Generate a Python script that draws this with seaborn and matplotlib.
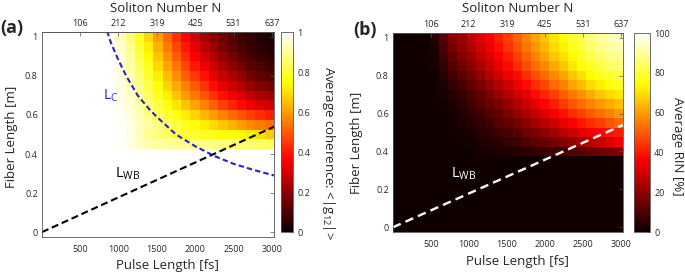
import numpy as np
import pandas as pd
import matplotlib
matplotlib.use("Agg")
import matplotlib.pyplot as plt
import seaborn as sns

# simulation grid: column centres [fs], rows from top (1 m) to bottom (0 m)
pulse_fs = [61, 182, 303, 424, 545, 667, 788, 909, 1030, 1151, 1273, 1394, 1515,
            1636, 1757, 1879, 2000, 2121, 2242, 2363, 2485, 2606, 2727, 2848, 2969]
fiber_m = [1.00, 0.95, 0.90, 0.85, 0.80, 0.75, 0.70, 0.65, 0.60, 0.55, 0.50,
           0.45, 0.40, 0.35, 0.30, 0.25, 0.20, 0.15, 0.10, 0.05, 0.00]

# (a) average coherence <|g12|>
coherence = [
    [1, 1, 1, 1, 1, 1, 1, 0.98, 0.93, 0.86, 0.78, 0.69, 0.60, 0.52, 0.44, 0.37, 0.30, 0.24, 0.19, 0.15, 0.11, 0.08, 0.06, 0.04, 0.03],
    [1, 1, 1, 1, 1, 1, 1, 0.99, 0.95, 0.88, 0.80, 0.72, 0.63, 0.55, 0.47, 0.40, 0.33, 0.27, 0.22, 0.17, 0.13, 0.10, 0.07, 0.05, 0.04],
    [1, 1, 1, 1, 1, 1, 1, 0.99, 0.96, 0.90, 0.82, 0.74, 0.66, 0.58, 0.50, 0.43, 0.36, 0.30, 0.25, 0.20, 0.16, 0.12, 0.09, 0.07, 0.05],
    [1, 1, 1, 1, 1, 1, 1, 1.00, 0.96, 0.91, 0.84, 0.77, 0.69, 0.61, 0.54, 0.47, 0.40, 0.34, 0.29, 0.24, 0.20, 0.16, 0.12, 0.10, 0.08],
    [1, 1, 1, 1, 1, 1, 1, 1.00, 0.97, 0.92, 0.86, 0.79, 0.72, 0.65, 0.58, 0.51, 0.45, 0.39, 0.33, 0.28, 0.24, 0.20, 0.16, 0.13, 0.11],
    [1, 1, 1, 1, 1, 1, 1, 1.00, 0.97, 0.93, 0.88, 0.82, 0.75, 0.68, 0.62, 0.56, 0.50, 0.44, 0.38, 0.33, 0.29, 0.25, 0.21, 0.18, 0.16],
    [1, 1, 1, 1, 1, 1, 1, 1.00, 0.98, 0.94, 0.89, 0.84, 0.78, 0.72, 0.66, 0.60, 0.55, 0.49, 0.44, 0.39, 0.35, 0.31, 0.27, 0.24, 0.22],
    [1, 1, 1, 1, 1, 1, 1, 1.00, 0.98, 0.95, 0.91, 0.86, 0.81, 0.76, 0.71, 0.66, 0.61, 0.56, 0.51, 0.46, 0.42, 0.38, 0.34, 0.31, 0.29],
    [1, 1, 1, 1, 1, 1, 1, 1.00, 0.99, 0.96, 0.92, 0.88, 0.84, 0.80, 0.76, 0.72, 0.68, 0.64, 0.60, 0.56, 0.52, 0.49, 0.46, 0.43, 0.41],
    [1, 1, 1, 1, 1, 1, 1, 1.00, 0.99, 0.97, 0.93, 0.90, 0.87, 0.84, 0.81, 0.78, 0.75, 0.72, 0.69, 0.66, 0.63, 0.60, 0.57, 0.55, 0.53],
    [1, 1, 1, 1, 1, 1, 1, 1.00, 1.00, 0.97, 0.93, 0.89, 0.86, 0.84, 0.82, 0.80, 0.79, 0.78, 0.77, 0.76, 0.75, 0.74, 0.72, 0.70, 0.67],
    [1, 1, 1, 1, 1, 1, 1, 1.00, 0.99, 0.97, 0.94, 0.92, 0.91, 0.90, 0.89, 0.89, 0.88, 0.88, 0.87, 0.87, 0.86, 0.86, 0.85, 0.84, 0.83],
    [1] * 25,
    [1] * 25,
    [1] * 25,
    [1] * 25,
    [1] * 25,
    [1] * 25,
    [1] * 25,
    [1] * 25,
    [1] * 25,
]

# (b) average RIN [%]
rin = [
    [1, 1, 1, 1, 4, 12, 18, 22, 27, 32, 36, 41, 46, 51, 56, 61, 66, 71, 75, 79, 83, 87, 90, 92, 94],
    [1, 1, 1, 1, 3, 10, 16, 20, 25, 30, 34, 39, 44, 49, 54, 59, 64, 69, 73, 77, 81, 85, 88, 90, 92],
    [1, 1, 1, 1, 2, 8, 13, 18, 22, 27, 31, 36, 41, 46, 51, 56, 61, 66, 70, 74, 78, 82, 85, 88, 89],
    [1, 1, 1, 1, 2, 6, 11, 15, 19, 24, 28, 33, 38, 43, 48, 53, 57, 62, 66, 71, 75, 78, 81, 84, 86],
    [1, 1, 1, 1, 1, 4, 8, 12, 16, 20, 25, 29, 34, 38, 43, 48, 52, 57, 61, 66, 70, 74, 77, 79, 81],
    [1, 1, 1, 1, 1, 3, 6, 9, 13, 17, 21, 25, 29, 34, 38, 43, 47, 52, 56, 61, 65, 69, 72, 75, 77],
    [1, 1, 1, 1, 1, 2, 4, 7, 10, 14, 17, 21, 25, 29, 33, 38, 42, 46, 50, 54, 58, 62, 66, 69, 71],
    [1, 1, 1, 1, 1, 1, 3, 5, 8, 11, 14, 17, 21, 25, 29, 33, 37, 41, 45, 49, 53, 56, 59, 62, 65],
    [1, 1, 1, 1, 1, 1, 2, 4, 6, 8, 11, 14, 17, 21, 24, 28, 32, 35, 39, 43, 46, 50, 53, 56, 59],
    [1, 1, 1, 1, 1, 1, 2, 3, 4, 6, 8, 11, 13, 16, 19, 23, 26, 29, 33, 36, 40, 43, 46, 49, 52],
    [1, 1, 1, 1, 1, 1, 1, 2, 3, 5, 6, 8, 10, 12, 15, 17, 20, 23, 26, 29, 32, 35, 37, 39, 41],
    [1, 1, 1, 1, 1, 1, 1, 1, 2, 3, 4, 5, 7, 8, 10, 12, 14, 16, 18, 20, 23, 26, 28, 31, 34],
    [1, 1, 1, 1, 1, 1, 1, 1, 1, 2, 2, 3, 3, 4, 5, 6, 7, 8, 9, 10, 12, 14, 15, 16, 18],
    [1] * 25,
    [1] * 25,
    [1] * 25,
    [1] * 25,
    [1] * 25,
    [1] * 25,
    [1] * 25,
    [1] * 25,
]

# ticks
pulse_ticks = [500, 1000, 1500, 2000, 2500, 3000]
soliton_ticks = [106, 212, 319, 425, 531, 637]
fiber_ticks = [0, 0.2, 0.4, 0.6, 0.8, 1.0]
coh_ticks = [0, 0.2, 0.4, 0.6, 0.8, 1.0]
rin_ticks = [0, 20, 40, 60, 80, 100]

# guide lines
lwb_fs = [0, 3030]
lwb_m = [0.0, 0.54]
lc_fs = [850, 900, 1000, 1100, 1250, 1400, 1500, 1750, 2000, 2250, 2500, 2750, 3030]
lc_m = [1.03, 0.97, 0.88, 0.80, 0.70, 0.63, 0.59, 0.50, 0.44, 0.39, 0.35, 0.32, 0.29]

sns.set_style("white")
plt.rcParams["font.family"] = ["Open Sans", "DejaVu Sans"]
plt.rcParams["mathtext.fontset"] = "custom"
plt.rcParams["mathtext.rm"] = "Open Sans"
plt.rcParams["mathtext.it"] = "Open Sans"

TXT = "#262626"
EDGE = "#555555"
LAB = 9.5
TICK = 6.5

fig = plt.figure(figsize=(6.85, 2.76), dpi=100)


def draw_panel(pos, cpos, values, vmin, vmax, cticks, lab_xy):
    df = pd.DataFrame(values, index=fiber_m, columns=pulse_fs)
    ax_h = fig.add_axes(pos)
    cax = fig.add_axes(cpos)
    sns.heatmap(df, ax=ax_h, cbar_ax=cax, cmap="hot", vmin=vmin, vmax=vmax,
                xticklabels=False, yticklabels=False,
                cbar_kws={"ticks": cticks, "format": "%g"})
    ax_h.set_xlabel("")
    ax_h.set_ylabel("")
    cb = ax_h.collections[0].colorbar
    cb.outline.set_linewidth(0.6)
    cb.outline.set_edgecolor(EDGE)
    cax.tick_params(direction="in", length=2.5, width=0.5, labelsize=TICK,
                    pad=3, colors=EDGE, labelcolor=TXT)

    # overlay axes in physical units
    ax = fig.add_axes(pos, facecolor="none")
    dx = pulse_fs[1] - pulse_fs[0]
    dy = fiber_m[0] - fiber_m[1]
    ax.set_xlim(pulse_fs[0] - dx / 2, pulse_fs[-1] + dx / 2)
    ax.set_ylim(fiber_m[-1] - dy / 2, fiber_m[0] + dy / 2)
    ax.set_xticks(pulse_ticks)
    ax.set_yticks(fiber_ticks)
    ax.yaxis.set_major_formatter(matplotlib.ticker.FormatStrFormatter("%g"))
    ax.tick_params(direction="in", length=3, width=0.5, labelsize=TICK,
                   colors=EDGE, labelcolor=TXT, right=True)
    ax.tick_params(axis="x", pad=6)
    ax.tick_params(axis="y", pad=3)
    for s in ax.spines.values():
        s.set_visible(True)
        s.set_linewidth(0.6)
        s.set_edgecolor(EDGE)
    ax.set_xlabel("Pulse Length [fs]", fontsize=LAB, color=TXT)
    ax.set_ylabel("Fiber Length [m]", fontsize=LAB, color=TXT)
    ax.xaxis.set_label_coords(0.54, lab_xy[0])
    ax.yaxis.set_label_coords(lab_xy[1], lab_xy[2])

    ratio = soliton_ticks[-1] / pulse_ticks[-1]
    sec = ax.secondary_xaxis("top", functions=(lambda x: x * ratio, lambda n: n / ratio))
    sec.set_xticks(soliton_ticks, labels=[str(n) for n in soliton_ticks])
    sec.tick_params(direction="in", length=3, width=0.5, labelsize=TICK,
                    colors=EDGE, labelcolor=TXT, pad=3)
    sec.spines["top"].set_linewidth(0.6)
    sec.spines["top"].set_edgecolor(EDGE)
    return ax


ax_a = draw_panel([0.0613, 0.1413, 0.3387, 0.7428], [0.4102, 0.1594, 0.0175, 0.7246],
                  coherence, 0, 1, coh_ticks, (-0.105, -0.105, 0.49))
sns.lineplot(x=lwb_fs, y=lwb_m, ax=ax_a, color="black", linewidth=1.5,
             linestyle=(0, (3.4, 1.8)))
sns.lineplot(x=lc_fs, y=lc_m, ax=ax_a, color="#2424c8", linewidth=1.5,
             linestyle=(0, (2.6, 1.5)), sort=False)
ax_a.text(800, 0.70, r"$\mathregular{L_C}$", color="#2a2ad0", fontsize=10.5,
          ha="left", va="center")
ax_a.text(950, 0.30, r"$\mathregular{L_{WB}}$", color="black", fontsize=10.5,
          ha="left", va="center")

ax_b = draw_panel([0.5737, 0.1594, 0.3358, 0.7210], [0.9255, 0.1594, 0.0234, 0.7210],
                  rin, 0, 100, rin_ticks, (-0.115, -0.13, 0.447))
sns.lineplot(x=lwb_fs, y=lwb_m, ax=ax_b, color="white", linewidth=1.7,
             linestyle=(0, (3.6, 2.2)))
ax_b.text(760, 0.28, r"$\mathregular{L_{WB}}$", color="white", fontsize=10.5,
          ha="left", va="center")

fig.text(166 / 685, 1 - 8 / 276, "Soliton Number N", fontsize=LAB,
         ha="center", va="center", color=TXT)
fig.text(518 / 685, 1 - 8 / 276, "Soliton Number N", fontsize=LAB,
         ha="center", va="center", color=TXT)
fig.text(12 / 685, 1 - 28.5 / 276, "(a)", fontsize=13, fontweight="bold",
         ha="center", va="center", color=TXT)
fig.text(365.5 / 685, 1 - 30 / 276, "(b)", fontsize=13, fontweight="bold",
         ha="center", va="center", color=TXT)
fig.text(328 / 685, 1 - 153 / 276, r"Average coherence: <|g$_{12}$|>",
         fontsize=LAB, rotation=270, ha="center", va="center", color=TXT)
fig.text(677.5 / 685, 1 - 146.5 / 276, "Average RIN [%]",
         fontsize=LAB, rotation=270, ha="center", va="center", color=TXT)

fig.savefig("out.png", dpi=100)
